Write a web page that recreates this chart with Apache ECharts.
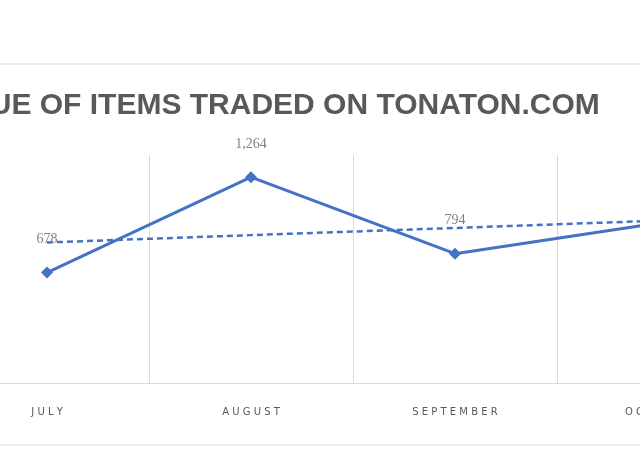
<!DOCTYPE html>
<html>
<head>
<meta charset="utf-8">
<script src="https://cdn.jsdelivr.net/npm/echarts@6/dist/echarts.min.js"></script>
<style>
	html, body { margin: 0; padding: 0; background: #fff; overflow: hidden; width: 640px; height: 457px; }
	#chart { width: 816px; height: 457px; margin-left: -55px; }
</style>
</head>
<body>
<div id="chart"></div>
<script>
let months = ["JULY", "AUGUST", "SEPTEMBER", "OCTOBER"]
let values = [678, 1264, 794, 983]
let trend = [863, 908, 952, 997]
let labels = ["678", "1,264", "794", "983"]

let chart = echarts.init(document.getElementById("chart"))

let option = {
	animation: false,
	title: {
		text: "VALUE OF ITEMS TRADED ON TONATON.COM",
		left: -18,
		top: 86,
		textStyle: {
			fontFamily: "Liberation Sans",
			fontSize: 30,
			fontWeight: "bold",
			color: "#595959",
			letterSpacing: 1.5
		}
	},
	graphic: [
		{
			type: "rect",
			shape: { x: 50, y: 64, width: 760, height: 381 },
			style: { fill: "none", stroke: "#d9d9d9", lineWidth: 1 }
		}
	],
	grid: {
		left: 0,
		right: 0,
		top: 155,
		bottom: 74
	},
	xAxis: {
		type: "category",
		data: months,
		axisTick: { show: false },
		axisLine: { lineStyle: { color: "#d9d9d9" } },
		splitLine: { show: true, lineStyle: { color: "#d9d9d9" } },
		axisLabel: {
			color: "#595959",
			fontSize: 10,
			margin: 24,
			fontFamily: "DejaVu Sans",
			formatter: function (v) {
				return v.split("").join(" ")
			}
		}
	},
	yAxis: {
		type: "value",
		min: 0,
		max: 1400,
		show: false
	},
	series: [
		{
			name: "Value",
			type: "line",
			data: values,
			symbol: "diamond",
			symbolSize: 12,
			itemStyle: { color: "#4472c4" },
			lineStyle: { color: "#4472c4", width: 3 },
			label: {
				show: true,
				position: "top",
				distance: 20,
				color: "#7f7f7f",
				fontSize: 14,
				fontFamily: "Liberation Serif",
				formatter: function (p) {
					return labels[p.dataIndex]
				}
			}
		},
		{
			name: "Trend",
			type: "line",
			data: trend,
			symbol: "none",
			lineStyle: { color: "#4472c4", width: 2.5, type: [6, 4] }
		}
	]
}
chart.setOption(option)
</script>
</body>
</html>
